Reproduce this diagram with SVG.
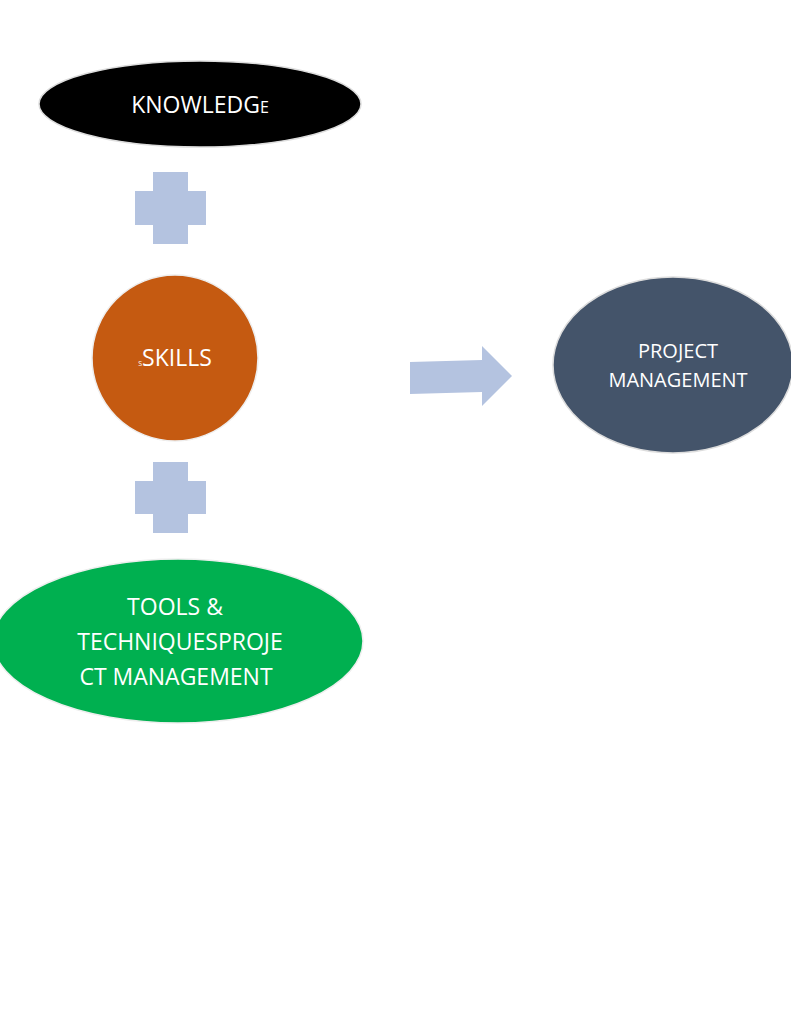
<svg xmlns="http://www.w3.org/2000/svg" width="791" height="1024" viewBox="0 0 791 1024">
<style>
.t{font-family:"Open Sans","Liberation Sans",sans-serif;fill:#fff;text-anchor:middle}
.plus{fill:#b4c3e0}
</style>
<rect width="791" height="1024" fill="#fff"/>
<g id="knowledge"><ellipse cx="200" cy="104" rx="161" ry="43" fill="#000" stroke="#ddd" stroke-width="1.5"/>
<text class="t" x="200" y="113" font-size="23">KNOWLEDG<tspan font-size="16">E</tspan></text></g>
<g id="plus1"><path class="plus" d="M153,172h35v19h18v34h-18v19h-35v-19h-18v-34h18z"/></g>
<g id="skills"><circle cx="175" cy="358" r="83" fill="#c55a11" stroke="#eee" stroke-width="1.5"/>
<text class="t" x="175" y="366" font-size="23"><tspan font-size="7">S</tspan>SKILLS</text></g>
<g id="plus2"><path class="plus" d="M153,462h35v19h18v33h-18v19h-35v-19h-18v-33h18z"/></g>
<g id="tools"><ellipse cx="178" cy="641" rx="185" ry="82" fill="#00b050" stroke="#eee" stroke-width="1.5"/>
<text class="t" font-size="23"><tspan x="175" y="615">TOOLS &amp;</tspan><tspan x="180" y="650">TECHNIQUESPROJE</tspan><tspan x="176" y="685">CT MANAGEMENT</tspan></text></g>
<g id="connectors"><path class="plus" d="M410,362l72,-2v-14l30,30l-30,30v-14l-72,2z"/></g>
<g id="pm"><ellipse cx="673" cy="365" rx="120" ry="88" fill="#44546a" stroke="#ddd" stroke-width="1.5"/>
<text class="t" font-size="20"><tspan x="678" y="358">PROJECT</tspan><tspan x="678" y="387">MANAGEMENT</tspan></text></g>
</svg>
